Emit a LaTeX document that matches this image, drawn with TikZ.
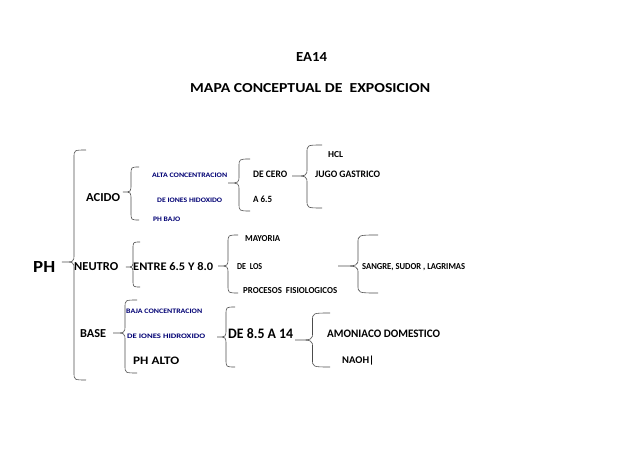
\documentclass[tikz,border=0pt]{standalone}
\usepackage{fontspec}
\usepackage{graphicx}
\setmainfont{Carlito}
\newcommand\fit[3]{\resizebox{#1pt}{#2pt}{\bfseries #3}}
\begin{document}
\begin{tikzpicture}[x=1pt,y=-1pt,
  t/.style={inner sep=0pt,anchor=west},
  s/.style={inner sep=0pt,anchor=west,text=blue!45!black},
  br/.style={draw=black!70,line width=0.6pt}]
\useasboundingbox (0,0) rectangle (640,449);
\newcommand\cbr[5]{% xtip xright ytop ytip ybot
  \pgfmathsetmacro\xm{(#1+#2)/2}\pgfmathsetmacro\r{min(8,(#2-#1)/2)}
  \draw[br] (#2,#3) .. controls (\xm,#3) .. (\xm,#3+\r) -- (\xm,#4-\r) .. controls (\xm,#4) .. (#1,#4)
     .. controls (\xm,#4) .. (\xm,#4+\r) -- (\xm,#5-\r) .. controls (\xm,#5) .. (#2,#5);}
\node[t] (title) at (296,57) {\fit{31}{9}{EA14}};
\node[t] (sub) at (190,88) {\fit{240}{9}{MAPA CONCEPTUAL DE\ \ EXPOSICION}};
\node[t] (ph) at (33,267) {\fit{22}{11}{PH}};
\cbr{62}{86}{150}{262}{380}
\node[t] (acido) at (86,198) {\fit{34}{8}{ACIDO}};
\cbr{123}{139}{167}{192}{220}
\node[s] (alta) at (152,175) {\fit{75}{4.5}{ALTA CONCENTRACION}};
\node[s] (iones) at (157,200) {\fit{65}{4.5}{DE IONES HIDOXIDO}};
\node[s] (bajo) at (153,219) {\fit{27}{4.5}{PH BAJO}};
\cbr{228}{250}{159}{183}{211}
\node[t] (cero) at (253,174) {\fit{34}{6.5}{DE CERO}};
\node[t] (a65) at (253,199) {\fit{19}{6.5}{A 6.5}};
\cbr{292}{322}{145}{176}{208}
\node[t] (hcl) at (328,155) {\fit{15}{6}{HCL}};
\node[t] (jugo) at (315,174) {\fit{65}{6.5}{JUGO GASTRICO}};
\node[t] (neutro) at (74,267) {\fit{44}{8}{NEUTRO}};
\cbr{126}{140}{242}{267}{287}
\node[t] (entre) at (133,267) {\fit{80}{8}{ENTRE 6.5 Y 8.0}};
\cbr{218}{238}{235}{266}{293}
\node[t] (may) at (245,239) {\fit{35}{6}{MAYORIA}};
\node[t] (delos) at (237,267) {\fit{25}{6}{DE\ \ LOS}};
\node[t] (proc) at (243,291) {\fit{94}{6}{PROCESOS\ \ FISIOLOGICOS}};
\cbr{338}{378}{235}{266}{293}
\node[t] (sangre) at (362,267) {\fit{103}{6}{SANGRE, SUDOR , LAGRIMAS}};
\node[t] (base) at (80,334) {\fit{26}{8}{BASE}};
\cbr{113}{137}{300}{333}{373}
\node[s] (bajac) at (126,311) {\fit{76}{4.5}{BAJA CONCENTRACION}};
\node[s] (ionesh) at (127,336) {\fit{78}{4.5}{DE IONES HIDROXIDO}};
\node[t] (phalto) at (133,361) {\fit{46}{7.5}{PH ALTO}};
\cbr{217}{235}{307}{337}{367}
\node[t] (de85) at (228,334) {\fit{65}{10}{DE 8.5 A 14}};
\cbr{295}{330}{313}{340}{367}
\node[t] (amon) at (327,334) {\fit{113}{7.5}{AMONIACO DOMESTICO}};
\node[t] (naoh) at (342,361) {\fit{32}{7.5}{NAOH|}};
\end{tikzpicture}
\end{document}
